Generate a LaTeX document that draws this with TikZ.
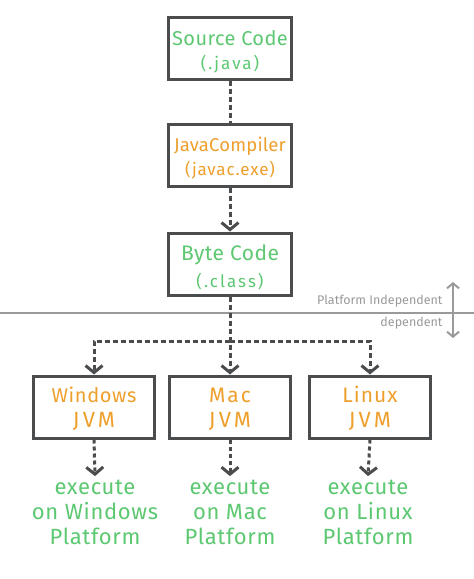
\documentclass[tikz,border=0pt]{standalone}
\usepackage{fontspec}
\setmainfont{Fira Sans}
\usetikzlibrary{arrows.meta}
\definecolor{jgreen}{HTML}{5CC871}
\definecolor{jorange}{HTML}{EE9F2C}
\definecolor{jdark}{HTML}{4A4C4E}
\definecolor{jgray}{HTML}{9A9A9A}
\newcommand{\szls}[2]{\fontsize{#1}{#1}\selectfont\addfontfeatures{LetterSpace=#2}}
\newcommand{\pushdown}[1]{\rule{0pt}{#1}}
\tikzset{
  box/.style={draw=jdark, line width=3pt, fill=white, inner sep=0pt, align=center, font=\fontsize{20}{24}\selectfont},
  topbox/.style={box, minimum width=123pt, minimum height=62pt},
  jvmbox/.style={box, minimum width=121pt, minimum height=62pt, text=jorange, font=\fontsize{20}{25}\selectfont},
  conn/.style={draw=jdark, line width=3pt, dash pattern=on 5pt off 3pt},
  tip/.style={-{Straight Barb[length=7pt,width=17pt,line width=3pt]}},
  exectext/.style={text=jgreen, align=center, font=\fontsize{22}{25}\selectfont\addfontfeatures{LetterSpace=3}},
  lbl/.style={text=jgray, font=\fontsize{12.5}{14}\selectfont, anchor=east}
}
\begin{document}
\begin{tikzpicture}[x=1pt,y=-1pt]
\useasboundingbox (0,0) rectangle (474,579);
\fill[white] (0,0) rectangle (474,579);

% horizontal separator
\draw[jgray, line width=2pt] (0,313) -- (474,313);
\node[lbl] (pi) at (446,301) {Platform Independent};
\node[lbl] (pd) at (446,323) {dependent};
\coordinate (arrT) at (453,282);
\coordinate (arrB) at (453,338);
\draw[jgray, line width=2pt, {Straight Barb[length=5pt,width=12pt]}-{Straight Barb[length=5pt,width=12pt]}] (arrT) -- (arrB);

% top boxes
\node[topbox, text=jgreen] (src) at (230,48) {\pushdown{22pt}{\szls{20}{2}Source Code}\\{\szls{17}{12}(.java)}};
\node[topbox, text=jorange] (comp) at (230,155) {\pushdown{20pt}{\szls{18.5}{1}JavaCompiler}\\{\szls{17}{5}(javac.exe)}};
\node[topbox, text=jgreen] (byte) at (230,264) {\pushdown{22pt}{\szls{21}{2}Byte Code}\\[3pt]{\szls{17}{12}(.class)}};

% JVM boxes
\node[jvmbox] (win) at (94,407) {\pushdown{20pt}{\szls{20}{3}Windows}\\{\szls{22}{14}JVM}};
\node[jvmbox] (mac) at (230,407) {\pushdown{20pt}{\szls{21}{10}Mac}\\{\szls{22}{14}JVM}};
\node[jvmbox] (lin) at (370,407) {\pushdown{20pt}{\szls{21}{5}Linux}\\{\szls{22}{14}JVM}};

% execute texts
\node[exectext] (ewin) at (95,512) {execute\\on Windows\\Platform};
\node[exectext] (emac) at (230,512) {execute\\on Mac\\Platform};
\node[exectext] (elin) at (368,512) {execute\\on Linux\\Platform};

% connectors
\draw[conn] (src.south) -- (comp.north);
\draw[conn, tip] (comp.south) -- (byte.north);
\coordinate (br) at (230,341);
\draw[conn, tip] (byte.south) -- (mac.north);
\draw[conn, tip] (br) -| (win.north);
\draw[conn, tip] (br) -| (lin.north);
\draw[conn, tip, dash pattern=on 4pt off 3pt] (win.south) -- (ewin.north);
\draw[conn, tip, dash pattern=on 4pt off 3pt] (mac.south) -- (emac.north);
\draw[conn, tip, dash pattern=on 4pt off 3pt] (lin.south) -- (elin.north);
\end{tikzpicture}
\end{document}
